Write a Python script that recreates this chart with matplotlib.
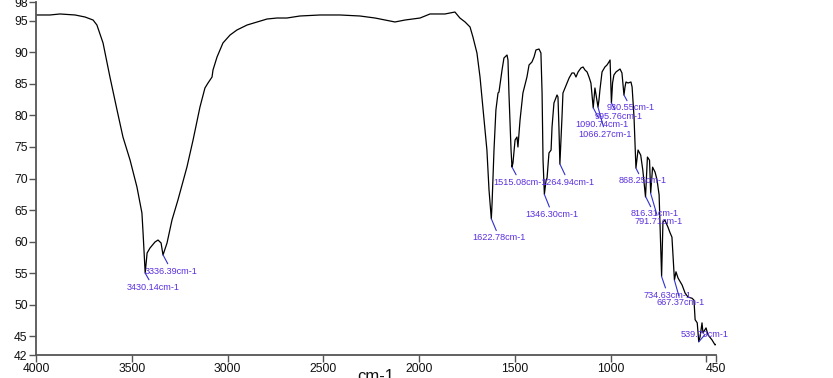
import numpy as np
import matplotlib
matplotlib.use("Agg")
import matplotlib.pyplot as plt

plt.rcParams['font.family'] = ['Liberation Sans', 'DejaVu Sans']

# IR spectrum: wavenumber (cm-1) and transmittance (%)
wavenumber = [4000, 3927, 3875, 3796, 3744, 3702, 3682, 3650, 3614, 3577,
              3546, 3509, 3473, 3447, 3441, 3430, 3420, 3405, 3379, 3363,
              3347, 3337, 3316, 3290, 3259, 3212, 3180, 3144, 3118, 3102,
              3081, 3076, 3055, 3024, 2987, 2951, 2898, 2846, 2794, 2742,
              2690, 2622, 2517, 2413, 2309, 2230, 2178, 2126, 2074, 1995,
              1943, 1865, 1813, 1787, 1760, 1734, 1719, 1698, 1682, 1666,
              1646, 1635, 1623, 1619, 1609, 1599, 1588, 1583, 1567, 1557,
              1541, 1536, 1531, 1520, 1515, 1510, 1499, 1489, 1484, 1473,
              1458, 1437, 1426, 1411, 1400, 1390, 1374, 1364, 1358, 1353,
              1346, 1337, 1332, 1322, 1311, 1306, 1296, 1280, 1275, 1270,
              1265, 1254, 1249, 1228, 1217, 1202, 1191, 1181, 1170, 1155,
              1144, 1134, 1123, 1113, 1103, 1091, 1082, 1066, 1061, 1056,
              1045, 1030, 1019, 1009, 1003, 996, 990, 983, 972, 951,
              941, 930.5, 925, 920, 909, 894, 888, 878, 868, 857,
              843, 832, 818, 808, 797, 791, 781, 768, 758, 747,
              734, 727, 717, 701, 690, 680, 667, 659, 648, 627,
              611, 596, 575, 565, 559, 548, 540, 533, 523, 518,
              502, 492, 471, 455, 450]
transmittance = [95.94, 95.94, 96.10, 95.94, 95.62, 95.14, 94.35, 91.50, 86.10, 80.87,
                 76.58, 72.93, 68.65, 64.53, 61.35, 55.0, 58.18, 58.97, 59.92, 60.24,
                 59.77, 57.86, 59.77, 63.42, 66.59, 71.82, 76.11, 81.34, 84.36, 85.15,
                 86.10, 87.21, 89.27, 91.50, 92.76, 93.56, 94.35, 94.83, 95.30, 95.46,
                 95.46, 95.78, 95.94, 95.94, 95.78, 95.46, 95.14, 94.83, 95.14, 95.46,
                 96.10, 96.10, 96.41, 95.46, 94.83, 94.03, 92.45, 89.91, 86.10, 80.87,
                 74.52, 68.18, 63.6, 66.11, 74.52, 80.87, 83.56, 83.72, 87.21, 89.12,
                 89.59, 88.80, 83.56, 74.52, 71.82, 72.46, 76.11, 76.58, 75.00, 79.28,
                 83.56, 86.10, 88.01, 88.48, 89.27, 90.39, 90.54, 89.91, 83.56, 72.93,
                 67.5, 69.76, 70.08, 74.05, 74.52, 78.17, 81.98, 83.25, 82.93, 78.17,
                 72.3, 79.76, 83.56, 85.15, 85.94, 86.74, 86.74, 86.10, 86.90, 87.53,
                 87.69, 87.21, 86.90, 86.10, 85.15, 81.2, 84.36, 81.34, 82.45, 84.04,
                 86.90, 87.69, 88.01, 88.48, 88.80, 81.98, 85.15, 86.42, 86.90, 87.37,
                 86.74, 83.25, 84.52, 85.31, 85.15, 85.31, 84.52, 79.76, 71.67, 74.52,
                 73.7, 71.3, 67.07, 73.4, 72.9, 67.7, 71.8, 71.0, 69.8, 67.4,
                 54.5, 63.1, 63.4, 62.3, 61.4, 60.7, 53.9, 55.2, 54.2, 53.1,
                 51.8, 51.2, 51.0, 50.7, 47.6, 47.1, 44.1, 44.9, 47.1, 45.5,
                 46.3, 45.2, 44.4, 43.6, 43.7]

# labelled peaks and where their text sits (offset in pixels from the peak)
peak_wn = [3430.14, 3336.39, 1622.78, 1515.08, 1346.30, 1264.94, 1090.74,
           1066.27, 995.76, 930.55, 868.25, 816.31, 791.71, 734.63, 667.37, 539.79]
peak_t = [55.0, 57.86, 63.6, 71.82, 67.5, 72.3, 81.2,
          81.34, 81.98, 83.25, 71.67, 67.07, 67.7, 54.5, 53.9, 44.1]
label_dx = [8, 8.5, 8, 8, 8, 8.5, 9, 7.5, 7, 7, 6.5, 8.5, 8.5, 6.5, 6.5, 6]
label_dy = [14, 16, 19, 15, 20, 18, 17, 27, 14, 13, 13, 17, 29, 19, 23, -7]

xticks = [4000, 3500, 3000, 2500, 2000, 1500, 1000, 500, 450]
xticklabels = ['4000', '3500', '3000', '2500', '2000', '1500', '1000', '', '450']
yticks = [42, 45, 50, 55, 60, 65, 70, 75, 80, 85, 90, 95, 98]

fig = plt.figure(figsize=(8.33, 3.78), dpi=100)
ax = fig.add_axes([36/833, 23/378, 680/833, 353/378])

ax.plot(wavenumber, transmittance, color='black', lw=0.9)

for w, t, dx, dy in zip(peak_wn, peak_t, label_dx, label_dy):
    ax.annotate('%.2fcm-1' % w, xy=(w, t), xytext=(dx, -dy),
                textcoords='offset pixels', ha='center', va='center',
                fontsize=6.6, color='#5b30e0',
                arrowprops=dict(arrowstyle='-', color='#3030cc', lw=0.8,
                                shrinkA=0, shrinkB=0))

ax.set_xlim(4000, 450)
ax.set_ylim(42, 98)
ax.set_xticks(xticks)
ax.set_xticklabels(xticklabels)
ax.set_yticks(yticks)

for side in ['top', 'right']:
    ax.spines[side].set_visible(False)
for side in ['left', 'bottom']:
    ax.spines[side].set_color('#555555')
    ax.spines[side].set_linewidth(1.3)
ax.tick_params(direction='out', length=5, width=1, color='#555555',
               labelsize=8.7, labelcolor='#111111', pad=1)

fig.text(376/833, 1 - 369/378, 'cm-1', ha='center', va='top', fontsize=12,
         color='#111111')

fig.savefig('out.png', dpi=100)
